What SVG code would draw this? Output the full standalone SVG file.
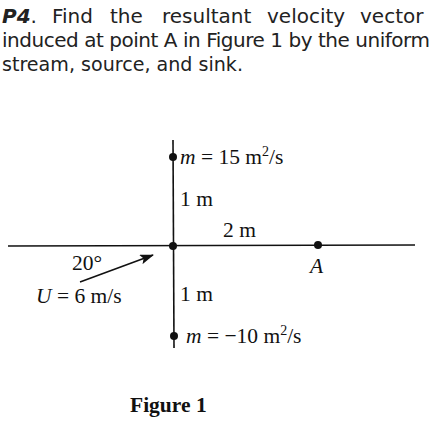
<svg xmlns="http://www.w3.org/2000/svg" width="436" height="439" viewBox="0 0 436 439">
<style>
.t{font-family:"DejaVu Sans","Liberation Sans",Arial,sans-serif;font-size:20px;fill:#222}
.s{font-family:"Liberation Serif","Times New Roman",serif;font-size:21.5px;fill:#111}
.ln{stroke:#111;stroke-width:1.6;fill:none}
</style>
<defs>
<marker id="ah" markerWidth="14" markerHeight="10" refX="13" refY="5" orient="auto" markerUnits="userSpaceOnUse"><path d="M0,0 L14,5 L0,10 L3,5 Z" fill="#111"/></marker>
</defs>
<rect width="436" height="439" fill="#fff"/>
<g id="title">
<text class="t" y="23"><tspan x="2" font-weight="bold" font-style="italic">P4</tspan><tspan>.</tspan><tspan x="52">Find</tspan><tspan x="110">the</tspan><tspan x="162">resultant</tspan><tspan x="267">velocity</tspan><tspan x="360">vector</tspan></text>
<text class="t" x="2" y="47" font-size="17.5" textLength="428" lengthAdjust="spacing">induced at point A in Figure 1 by the uniform</text>
<text class="t" x="2" y="71" textLength="241" lengthAdjust="spacingAndGlyphs">stream, source, and sink.</text>
</g>
<g id="connectors">
<line class="ln" x1="173" y1="140" x2="174" y2="348"/>
<line class="ln" x1="8" y1="246" x2="415" y2="245"/>
<line class="ln" x1="80" y1="282" x2="153" y2="255" stroke-width="2.4" marker-end="url(#ah)"/>
</g>
<g id="source">
<circle cx="173" cy="157" r="4" fill="#111"/>
<text class="s" x="180" y="164"><tspan font-style="italic">m</tspan> = 15  m<tspan font-size="14" dy="-8">2</tspan><tspan dy="8">/s</tspan></text>
<text class="s" x="180" y="206">1 m</text>
</g>
<g id="origin">
<circle cx="173" cy="246" r="4" fill="#111"/>
<text class="s" x="223" y="237">2 m</text>
</g>
<g id="pointA">
<circle cx="318" cy="245" r="4" fill="#111"/>
<text class="s" x="310" y="273" font-style="italic">A</text>
</g>
<g id="stream">
<text class="s" x="72" y="270">20°</text>
<text class="s" x="36" y="303"><tspan font-style="italic">U</tspan> = 6 m/s</text>
</g>
<g id="sink">
<text class="s" x="180" y="301">1 m</text>
<circle cx="174" cy="336" r="4" fill="#111"/>
<text class="s" x="186" y="343"><tspan font-style="italic">m</tspan> = −10 m<tspan font-size="14" dy="-8">2</tspan><tspan dy="8">/s</tspan></text>
</g>
<g id="caption">
<text class="s" x="130" y="412" font-weight="bold" font-size="19">Figure 1</text>
</g>
</svg>
